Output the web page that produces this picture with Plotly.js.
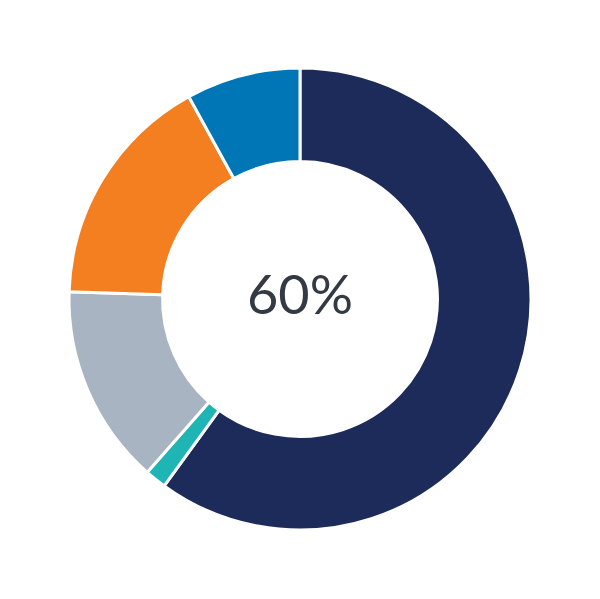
<!DOCTYPE html>
<html>
<head>
<meta charset="utf-8">
<script src="https://cdn.plot.ly/plotly-3.0.1.min.js"></script>
<style>html,body{margin:0;padding:0;background:#fff;}#chart{width:600px;height:599px;}</style>
</head>
<body>
<div id="chart"></div>
<script>
const labels = ["A", "B", "C", "D", "E"];
const values = [60, 1.5, 14, 16.5, 8];
const colors = ["#1c2b5a", "#1fb5b5", "#a8b4c2", "#f47f20", "#0076b6"];
const centerText = "60%";

Plotly.newPlot("chart", [{
  type: "pie",
  labels: labels,
  values: values,
  hole: 0.595,
  sort: false,
  direction: "clockwise",
  rotation: 0,
  textinfo: "none",
  hoverinfo: "label+percent",
  marker: {colors: colors, line: {color: "#ffffff", width: 3}},
  showlegend: false
}], {
  width: 600, height: 599,
  margin: {l: 69, r: 69, t: 68, b: 69},
  paper_bgcolor: "#ffffff",
  annotations: [{
    text: centerText, x: 0.5, y: 0.511, xref: "paper", yref: "paper",
    showarrow: false, font: {family: "Lato", size: 54, color: "#333a44"}
  }]
}, {displayModeBar: false});
</script>
</body>
</html>
